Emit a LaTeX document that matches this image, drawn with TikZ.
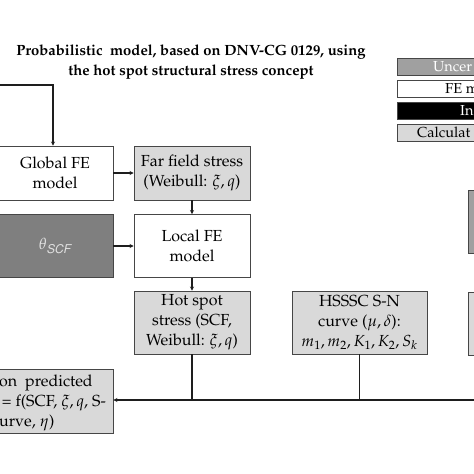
\documentclass[tikz,border=0pt]{standalone}
\usepackage{amsmath}
\usepackage[T1]{fontenc}
\usepackage{mathpazo}
\usepackage{tikz}
\usetikzlibrary{positioning,arrows.meta}
\tikzstyle{sheet} = [x = 1pt, y = -1pt]
\definecolor{lineColor}{RGB}{70,70,70}
\definecolor{wireColor}{RGB}{30,30,30}
\definecolor{calcColor}{RGB}{217,217,217}
\definecolor{uncertColor}{RGB}{160,160,160}
\definecolor{thetaColor}{RGB}{127,127,127}
\definecolor{thetaText}{RGB}{225,225,225}
\newcommand{\sansIt}[1]{\text{\fontfamily{phv}\itshape #1}}
\tikzstyle{stepBox} = [draw=lineColor, line width=0.9pt, minimum width=116pt, minimum height=63pt, inner sep=2pt, align=center, font=\fontsize{16}{20}\selectfont]
\tikzstyle{calcBox} = [stepBox, fill=calcColor]
\tikzstyle{feBox} = [stepBox, fill=white]
\tikzstyle{legendBox} = [draw=lineColor, line width=0.9pt, minimum height=17pt, inner sep=0pt]
\tikzstyle{legendText} = [anchor=west, inner sep=0pt, font=\fontsize{14.5}{16}\selectfont]
\tikzstyle{wire} = [draw=wireColor, line width=1.1pt]
\tikzstyle{wireArrow} = [wire, -{Stealth[length=4pt, width=4pt]}]
\tikzstyle{titleText} = [align=center, font=\fontsize{14.8}{20.5}\selectfont\bfseries]

\begin{document}
\begin{tikzpicture}[sheet]
  \useasboundingbox (0,0) rectangle (474,474);
  \clip (0,0) rectangle (474,474);

  % title
  \node [titleText] (title) at (191,62) {Probabilistic~ model, based on DNV-CG 0129, using\\the hot spot structural stress concept};

  % legend
  \node [legendBox, fill=uncertColor, minimum width=90pt, anchor=north west] (legUncert) at (397,58) {};
  \node [legendText, text=white] (legUncertText) at (433,66.5) {Uncer};
  \node [legendBox, fill=white, minimum width=90pt, anchor=north west] (legFE) at (397,80) {};
  \node [legendText] (legFEText) at (445,88.5) {FE m};
  \node [legendBox, fill=black, minimum width=90pt, anchor=north west] (legInput) at (397,102) {};
  \node [legendText, text=white] (legInputText) at (460,110) {In};
  \node [legendBox, fill=calcColor, minimum width=90pt, anchor=north west] (legCalc) at (397,124) {};
  \node [legendText] (legCalcText) at (417,132) {Calculat};

  % boxes
  \node [feBox, minimum height=54pt] (globalFE) at (55,173) {Global FE\\model};
  \node [calcBox, minimum height=54pt] (farField) at (192,173) {Far field stress\\(Weibull: $\xi, q$)};
  \node [stepBox, fill=thetaColor, text=thetaText] (thetaSCF) at (55,246) {$\theta_{\sansIt{SCF}}$};
  \node [feBox] (localFE) at (192,246) {Local FE\\model};
  \node [calcBox] (hotSpot) at (192,322.5) {Hot spot\\stress (SCF,\\Weibull: $\xi, q$)};
  \node [calcBox, minimum width=135pt] (hsssc) at (359.5,322.5) {HSSSC S-N\\curve ($\mu, \delta$):\\$m_1, m_2, K_1, K_2, S_k$};
  \node [stepBox, fill=uncertColor, minimum width=92pt] (rightUpper) at (514,221.5) {};
  \node [calcBox, minimum width=92pt] (rightLower) at (514,323.5) {};
  \node [calcBox, minimum height=64pt] (predict) at (55,401) {};
  \node [anchor=west, align=left, inner sep=0pt, font=\fontsize{16}{20}\selectfont] (predictText) at (-1,403) {on~ predicted\\\,= f(SCF, $\xi, q$, S-\\urve, $\eta$)};

  % connectors
  \coordinate (topStart) at (-5,85);
  \coordinate (topCorner) at (53,85);
  \draw [wireArrow] (topStart) -- (topCorner) -- (topCorner |- globalFE.north);
  \draw [wireArrow] (globalFE.east) -- (farField.west);
  \draw [wireArrow] (farField.south) -- (localFE.north);
  \draw [wireArrow] (thetaSCF.east) -- (localFE.west);
  \draw [wireArrow] (localFE.south) -- (hotSpot.north);
  \coordinate (busEnd) at (480,400);
  \draw [wireArrow] (busEnd) -- (predict.east |- busEnd);
  \draw [wire] (hotSpot.south) -- (hotSpot.south |- busEnd);
  \draw [wire] (hsssc.south) -- (hsssc.south |- busEnd);
\end{tikzpicture}
\end{document}
